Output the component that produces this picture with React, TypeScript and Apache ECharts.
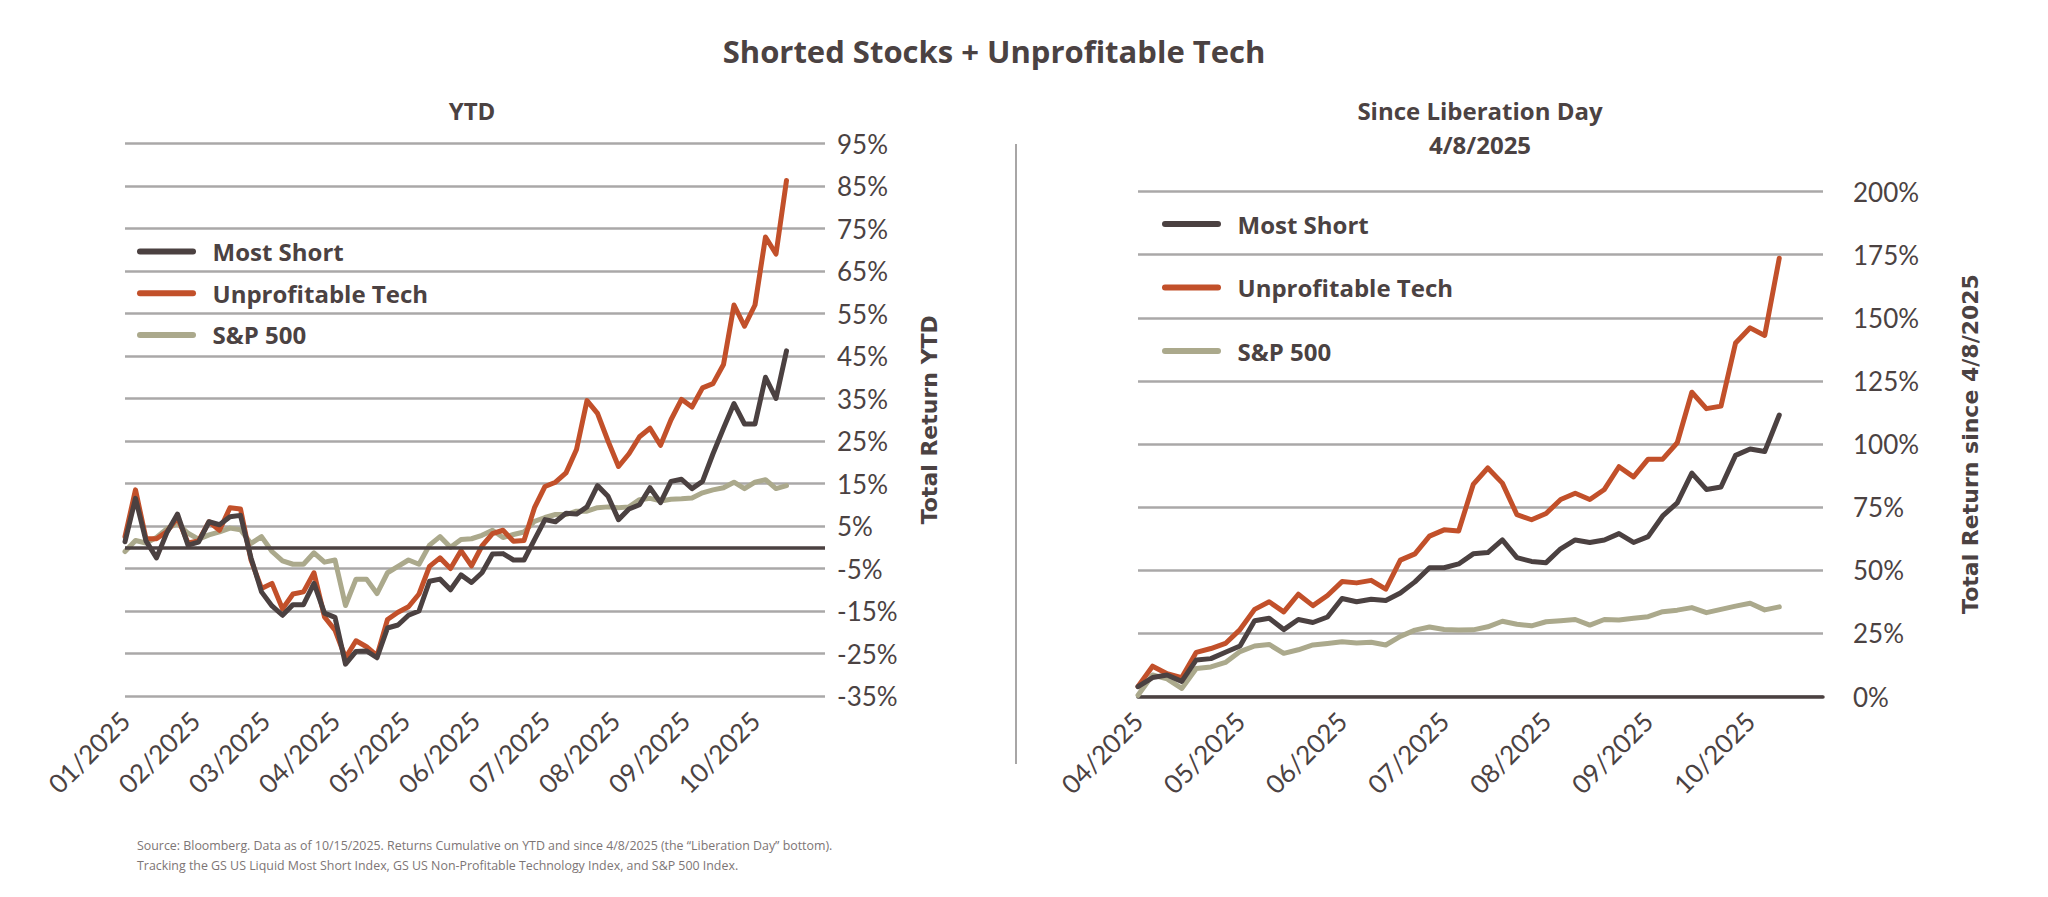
import React, { useEffect, useRef } from "react";
import * as echarts from "echarts";

// ---------- data ----------
const seriesNames = ["Most Short", "Unprofitable Tech", "S&P 500"];

// YTD panel: samples every 3 trading days starting 01/02/2025 (index 0 .. 189)
const ytdMonthLabels = ["01/2025", "02/2025", "03/2025", "04/2025", "05/2025", "06/2025", "07/2025", "08/2025", "09/2025", "10/2025"];
const ytdSampleStep = 3;
const ytdMostShort = [
  1.3, 11.5, 1.5, -2.5, 3.5, 7.8, 0.5, 1.2,
  6, 5.3, 7.2, 7.5, -2.5, -10.5, -13.8, -16,
  -13.5, -13.5, -8.5, -15.5, -16.5, -27.5, -24.5, -24.4,
  -26, -19, -18.3, -16, -15, -8, -7.5, -10,
  -6.5, -8.3, -6, -1.6, -1.5, -3, -3, 1.8,
  6.5, 6, 8, 7.8, 9.5, 14.5, 12, 6.5,
  9, 10, 14, 10.5, 15.5, 16, 13.8, 15.5,
  22, 28, 33.8, 29, 29, 40, 35, 46.2,
];
const ytdUnprofitableTech = [
  2.5, 13.5, 2, 2, 3.7, 7, 1, 1.5,
  6, 4, 9.3, 9, -3, -9.7, -8.5, -14.5,
  -11, -10.5, -6, -16.4, -19.5, -26, -22, -23.4,
  -25.5, -17, -15.3, -14, -11, -4.5, -2.5, -5,
  -0.8, -4.4, 0.3, 3.2, 4, 1.4, 1.6, 9.3,
  14.3, 15.3, 17.5, 23, 34.5, 31.5, 25, 19,
  22, 26, 28, 24, 30, 34.8, 33, 37.5,
  38.5, 43, 57, 52, 57, 73, 69, 86.3,
];
const ytdSP500 = [
  -1, 1.6, 1, 2.3, 4.4, 5.6, 3.3, 1.9,
  2.9, 3.6, 4.5, 4.1, 0.9, 2.5, -1, -3.2,
  -4, -4, -1.3, -3.5, -3, -13.7, -7.5, -7.5,
  -10.9, -6, -4.5, -3, -4, 0.5, 2.5, 0,
  1.8, 2, 2.8, 4, 2.3, 3, 3.6, 6.1,
  7, 7.7, 7.7, 8.5, 8.5, 9.3, 9.5, 9.3,
  9.5, 11.2, 11.5, 10.9, 11.3, 11.4, 11.6, 12.8,
  13.5, 14, 15.3, 13.8, 15.3, 15.9, 13.8, 14.5,
];

// Since 4/8/2025 panel: samples every 3 trading days (index 0 .. 132)
const sinceMonthLabels = ["04/2025", "05/2025", "06/2025", "07/2025", "08/2025", "09/2025", "10/2025"];
const sinceSampleStep = 3;
const sinceMostShort = [
  3.9, 7.5, 8.5, 6, 14.5, 15, 17.5, 20,
  30, 31, 26.5, 30.5, 29.3, 31.5, 38.8, 37.5,
  38.5, 38, 41, 45.4, 51, 51, 52.5, 56.5,
  57, 62, 55, 53.5, 53, 58.5, 62, 61,
  62, 64.5, 61, 63.3, 71.5, 76.7, 88.5, 82,
  83, 95.5, 98, 97, 111.5,
];
const sinceUnprofitableTech = [
  4, 12, 9, 7.5, 17.5, 19, 21, 26.5,
  34.5, 37.5, 33.5, 40.5, 36, 40, 45.5, 45,
  46, 42.5, 54, 56.5, 63.5, 66, 65.5, 84,
  90.5, 84.5, 72, 70, 72.5, 78, 80.5, 78,
  82, 91, 87, 94, 94, 100.5, 120.5, 114,
  115, 140, 146, 143, 173.6,
];
const sinceSP500 = [
  0.5, 8.5, 7, 3.2, 11.1, 11.7, 13.5, 17.8,
  20, 20.6, 17.1, 18.5, 20.4, 21, 21.7, 21.2,
  21.5, 20.4, 23.8, 26.3, 27.5, 26.5, 26.3, 26.4,
  27.6, 29.8, 28.6, 28, 29.6, 30, 30.5, 28.3,
  30.5, 30.3, 31, 31.6, 33.6, 34.2, 35.2, 33.2,
  34.5, 35.8, 36.9, 34.3, 35.5,
];

const titleText = "Shorted Stocks + Unprofitable Tech";
const ytdTitle = "YTD";
const sinceTitle = ["Since Liberation Day", "4/8/2025"];
const ytdAxisName = "Total Return YTD";
const sinceAxisName = "Total Return since 4/8/2025";
const footnotes = [
  "Source: Bloomberg. Data as of 10/15/2025. Returns Cumulative on YTD and since 4/8/2025 (the \u201cLiberation Day\u201d bottom).",
  "Tracking the GS US Liquid Most Short Index, GS US Non-Profitable Technology Index, and S&P 500 Index.",
];

// ---------- styles ----------
const C_DARK = "#4b4141";
const C_ORANGE = "#c2502a";
const C_BEIGE = "#aba98c";
const C_GRID = "#aaa8a8";
const C_TEXT = "#4b4242";
const F_BOLD = "'Open Sans', 'DejaVu Sans', sans-serif";
const F_LABEL = "Lato, 'Open Sans', sans-serif";

const toPairs = (vals: number[], step: number) => vals.map((v, i) => [i * step, v]);

export default function App() {
  const ref = useRef<HTMLDivElement>(null);

  useEffect(() => {
    document.body.style.margin = "0";
    if (!ref.current) return;
    const chart = echarts.init(ref.current, undefined, { renderer: "svg" });

    const lineSeries = (name: string, color: string, data: number[][], axis: number, z: number, extra: any = {}) => ({
      name,
      type: "line",
      xAxisIndex: axis,
      yAxisIndex: axis,
      data,
      color,
      symbol: "none",
      showSymbol: false,
      z,
      lineStyle: { color, width: 5, cap: "round", join: "round" },
      emphasis: { disabled: true },
      ...extra,
    });

    const xLabel = (labels: string[], interval: number) => (v: number) => {
      const k = Math.round(v / interval);
      return Math.abs(v - k * interval) < 1e-6 && k < labels.length ? labels[k] : "";
    };

    const legendBase = {
      orient: "vertical",
      icon: "path://M3,0 L56,0 A3,3 0 0 1 56,6 L3,6 A3,3 0 0 1 3,0 Z",
      itemWidth: 60,
      itemHeight: 6,
      selectedMode: false,
      data: seriesNames,
      textStyle: {
        fontSize: 24,
        fontWeight: "bold",
        fontFamily: F_BOLD,
        color: C_TEXT,
        lineHeight: 30,
        padding: [0, 0, 0, 11],
      },
    };

    const option: any = {
      animation: false,
      backgroundColor: "#ffffff",
      grid: [
        { left: 125, top: 143.5, width: 700, height: 552.5 },
        { left: 1138, top: 191.5, width: 685, height: 505 },
      ],
      xAxis: [
        {
          gridIndex: 0,
          type: "value",
          min: 0,
          max: 200,
          interval: 20,
          axisLine: { show: false },
          axisTick: { show: false },
          splitLine: { show: false },
          axisLabel: {
            rotate: 45,
            margin: 20,
            fontSize: 26,
            fontFamily: F_LABEL,
            color: C_TEXT,
            formatter: xLabel(ytdMonthLabels, 20),
          },
        },
        {
          gridIndex: 1,
          type: "value",
          min: 0,
          max: 141,
          interval: 21,
          axisLine: { show: true, lineStyle: { color: C_DARK, width: 3.5 } },
          axisTick: { show: false },
          splitLine: { show: false },
          axisLabel: {
            rotate: 45,
            margin: 20,
            fontSize: 26,
            fontFamily: F_LABEL,
            color: C_TEXT,
            formatter: xLabel(sinceMonthLabels, 21),
          },
        },
      ],
      yAxis: [
        {
          gridIndex: 0,
          type: "value",
          position: "right",
          min: -35,
          max: 95,
          interval: 10,
          axisLine: { show: false },
          axisTick: { show: false },
          splitLine: { lineStyle: { color: C_GRID, width: 2.5 } },
          axisLabel: { margin: 12, fontSize: 26, fontFamily: F_LABEL, color: C_TEXT, formatter: "{value}%" },
          name: ytdAxisName,
          nameLocation: "middle",
          nameRotate: 90,
          nameGap: 93,
          nameTextStyle: { fontSize: 22, fontWeight: "bold", fontFamily: "'DejaVu Sans', sans-serif", color: C_TEXT },
        },
        {
          gridIndex: 1,
          type: "value",
          position: "right",
          min: 0,
          max: 200,
          interval: 25,
          axisLine: { show: false },
          axisTick: { show: false },
          splitLine: { lineStyle: { color: C_GRID, width: 2.5 } },
          axisLabel: { margin: 30, fontSize: 26, fontFamily: F_LABEL, color: C_TEXT, formatter: "{value}%" },
          name: sinceAxisName,
          nameLocation: "middle",
          nameRotate: 90,
          nameGap: 136,
          nameTextStyle: { fontSize: 22, fontWeight: "bold", fontFamily: "'DejaVu Sans', sans-serif", color: C_TEXT },
        },
      ],
      legend: [
        { ...legendBase, left: 132, top: 231.5, itemGap: 11.7 },
        { ...legendBase, left: 1157, top: 204, itemGap: 33.5 },
      ],
      series: [
        lineSeries("S&P 500", C_BEIGE, toPairs(ytdSP500, ytdSampleStep), 0, 2, {
          markLine: {
            silent: true,
            symbol: ["none", "none"],
            label: { show: false },
            lineStyle: { color: C_DARK, width: 3.5, type: "solid" },
            data: [{ yAxis: 0 }],
          },
        }),
        lineSeries("Unprofitable Tech", C_ORANGE, toPairs(ytdUnprofitableTech, ytdSampleStep), 0, 3),
        lineSeries("Most Short", C_DARK, toPairs(ytdMostShort, ytdSampleStep), 0, 4),
        lineSeries("S&P 500", C_BEIGE, toPairs(sinceSP500, sinceSampleStep), 1, 2),
        lineSeries("Unprofitable Tech", C_ORANGE, toPairs(sinceUnprofitableTech, sinceSampleStep), 1, 3),
        lineSeries("Most Short", C_DARK, toPairs(sinceMostShort, sinceSampleStep), 1, 4),
      ],
      graphic: [
        {
          type: "text",
          x: 994,
          y: 51,
          style: { text: titleText, fontSize: 31, fontWeight: "bold", fontFamily: F_BOLD, fill: C_TEXT, align: "center", verticalAlign: "middle" },
        },
        {
          type: "text",
          x: 472,
          y: 110,
          style: { text: ytdTitle, fontSize: 24, fontWeight: "bold", fontFamily: F_BOLD, fill: C_TEXT, align: "center", verticalAlign: "middle" },
        },
        {
          type: "text",
          x: 1480,
          y: 110,
          style: { text: sinceTitle[0], fontSize: 24, fontWeight: "bold", fontFamily: F_BOLD, fill: C_TEXT, align: "center", verticalAlign: "middle" },
        },
        {
          type: "text",
          x: 1480,
          y: 144,
          style: { text: sinceTitle[1], fontSize: 24, fontWeight: "bold", fontFamily: F_BOLD, fill: C_TEXT, align: "center", verticalAlign: "middle" },
        },
        {
          type: "line",
          shape: { x1: 1016, y1: 144, x2: 1016, y2: 764 },
          style: { stroke: "#a8a6a6", lineWidth: 2 },
        },
        {
          type: "text",
          x: 137,
          y: 845,
          style: { text: footnotes[0], fontSize: 12.4, fontFamily: "'Open Sans', sans-serif", fill: "#7d7575", align: "left", verticalAlign: "middle" },
        },
        {
          type: "text",
          x: 137,
          y: 865,
          style: { text: footnotes[1], fontSize: 12.4, fontFamily: "'Open Sans', sans-serif", fill: "#7d7575", align: "left", verticalAlign: "middle" },
        },
      ],
    };

    chart.setOption(option);
    return () => chart.dispose();
  }, []);

  return <div ref={ref} style={{ width: 2048, height: 897 }} />;
}
